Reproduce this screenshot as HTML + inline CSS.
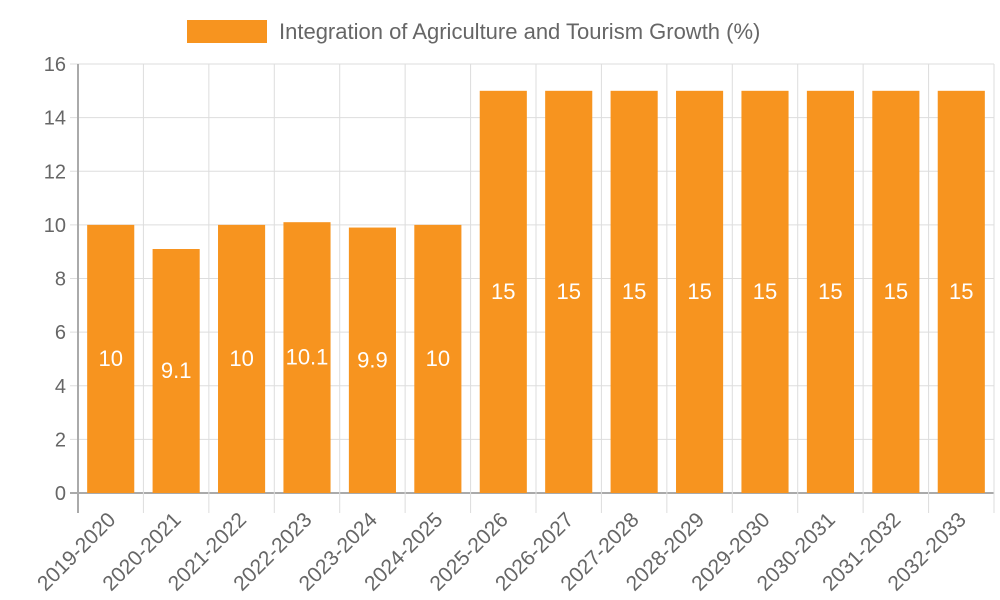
<!DOCTYPE html>
<html><head><meta charset="utf-8"><style>body{margin:0;background:#fff}svg{display:block;font-family:"Liberation Sans",sans-serif}</style></head>
<body>
<svg id="chart" width="1000" height="600">
<g>
<rect x="187" y="20" width="80" height="23" fill="#f7941f"/>
<text x="279" y="39" font-size="22" fill="#666">Integration of Agriculture and Tourism Growth (%)</text>
</g>
<g id="grid"></g><g id="bars"></g><g id="axes"></g>
</svg>
<script>
const categories=["2019-2020","2020-2021","2021-2022","2022-2023","2023-2024","2024-2025","2025-2026","2026-2027","2027-2028","2028-2029","2029-2030","2030-2031","2031-2032","2032-2033"];
const values=[10,9.1,10,10.1,9.9,10,15,15,15,15,15,15,15,15];
const yTicks=[0,2,4,6,8,10,12,14,16];
const X0=78,X1=994,Y0=493,Y1=64,YMAX=16;
const NS="http://www.w3.org/2000/svg";
const bw=(X1-X0)/categories.length;
const y=v=>Y0-(v/YMAX)*(Y0-Y1);
const xc=i=>X0+bw*(i+0.5);
function mk(t,a,p){const e=document.createElementNS(NS,t);for(const k in a)e.setAttribute(k,a[k]);p.appendChild(e);return e;}
const grid=document.getElementById('grid'),bars=document.getElementById('bars'),axes=document.getElementById('axes');
yTicks.forEach(t=>{
 const l=mk('line',{x1:X0-8,x2:X1,y1:y(t),y2:y(t),stroke:t===0?'#aaa':'#ddd','stroke-width':t===0?2:1},grid);
 
 
 const tx=mk('text',{x:X0-12,y:y(t)+7,'text-anchor':'end','font-size':20,fill:'#666'},axes);
 tx.textContent=t;
 
 
});
for(let i=0;i<=categories.length;i++){
 const gx=X0+bw*i;
 const l=mk('line',{x1:gx,x2:gx,y1:Y1,y2:Y0+20,stroke:i===0?'#aaa':'#ddd','stroke-width':i===0?2:1},grid);
 
 
}
categories.forEach((c,i)=>{
 const w=bw*0.72;
 const r=mk('rect',{x:xc(i)-w/2,y:y(values[i]),width:w,height:Y0-y(values[i]),fill:'#f7941f'},bars);
 
 
 const v=mk('text',{x:xc(i),y:(y(values[i])+Y0)/2+7,'text-anchor':'middle','font-size':22,fill:'#fff'},bars);
 v.textContent=values[i];
 
 
 const t=mk('text',{x:0,y:0,'text-anchor':'end','font-size':21,fill:'#666',transform:`translate(${xc(i)+6},${Y0+28}) rotate(-45)`},axes);
 t.textContent=c;
 
 
});
</script>
</body></html>
